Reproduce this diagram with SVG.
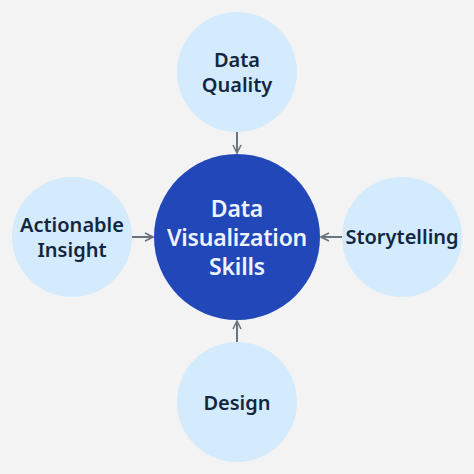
<svg xmlns="http://www.w3.org/2000/svg" width="474" height="474" viewBox="0 0 474 474">
<defs>
<style>
.sat{fill:#d3ebfc}
.hub{fill:#2147b9}
.lbl{font-family:"Noto Sans","Liberation Sans",sans-serif;font-weight:600;font-size:20px;fill:#12273f;text-anchor:middle}
.hlbl{font-family:"Noto Sans","Liberation Sans",sans-serif;font-weight:600;font-size:23px;letter-spacing:-0.2px;fill:#eef3ff;text-anchor:middle}
.conn{stroke:#6b7580;stroke-width:2;fill:none}
</style>
<marker id="ah" viewBox="0 0 10 10" refX="9" refY="5" markerWidth="10" markerHeight="10" markerUnits="userSpaceOnUse" orient="auto">
<path d="M1,1 L9,5 L1,9" fill="none" stroke="#6b7580" stroke-width="1.6"/>
</marker>
</defs>
<rect width="474" height="474" fill="#f3f3f3"/>
<g id="connectors">
<line class="conn" x1="237" y1="132" x2="237" y2="153" marker-end="url(#ah)"/>
<line class="conn" x1="131" y1="237" x2="153" y2="237" marker-end="url(#ah)"/>
<line class="conn" x1="343" y1="237" x2="321" y2="237" marker-end="url(#ah)"/>
<line class="conn" x1="237" y1="342" x2="237" y2="321" marker-end="url(#ah)"/>
</g>
<g id="hub">
<circle class="hub" cx="237" cy="237" r="83"/>
<text class="hlbl" x="237" y="217">Data</text>
<text class="hlbl" x="237" y="246">Visualization</text>
<text class="hlbl" x="237" y="275">Skills</text>
</g>
<g id="data-quality">
<circle class="sat" cx="237" cy="72" r="60"/>
<text class="lbl" x="237" y="67">Data</text>
<text class="lbl" x="237" y="92">Quality</text>
</g>
<g id="actionable-insight">
<circle class="sat" cx="72" cy="237" r="60"/>
<text class="lbl" x="72" y="232">Actionable</text>
<text class="lbl" x="72" y="257">Insight</text>
</g>
<g id="storytelling">
<circle class="sat" cx="402" cy="237" r="60"/>
<text class="lbl" x="402" y="244">Storytelling</text>
</g>
<g id="design">
<circle class="sat" cx="237" cy="402" r="60"/>
<text class="lbl" x="237" y="410">Design</text>
</g>
</svg>
